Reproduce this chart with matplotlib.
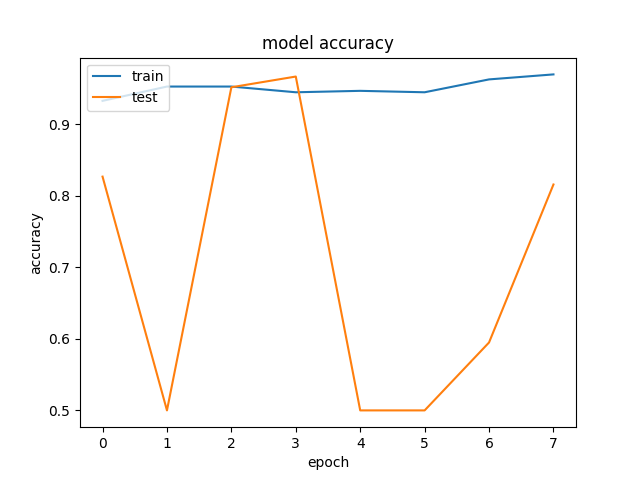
import matplotlib
matplotlib.use('Agg')
import matplotlib.pyplot as plt

epochs = [0, 1, 2, 3, 4, 5, 6, 7]
train_acc = [0.933, 0.953, 0.953, 0.945, 0.947, 0.945, 0.963, 0.970]
test_acc = [0.827, 0.500, 0.952, 0.967, 0.500, 0.500, 0.595, 0.816]

fig = plt.figure(figsize=(6.4, 4.8), dpi=100)
plt.plot(epochs, train_acc)
plt.plot(epochs, test_acc)
plt.title('model accuracy')
plt.ylabel('accuracy')
plt.xlabel('epoch')
plt.legend(['train', 'test'], loc='upper left')
plt.savefig('out.png', dpi=100)
